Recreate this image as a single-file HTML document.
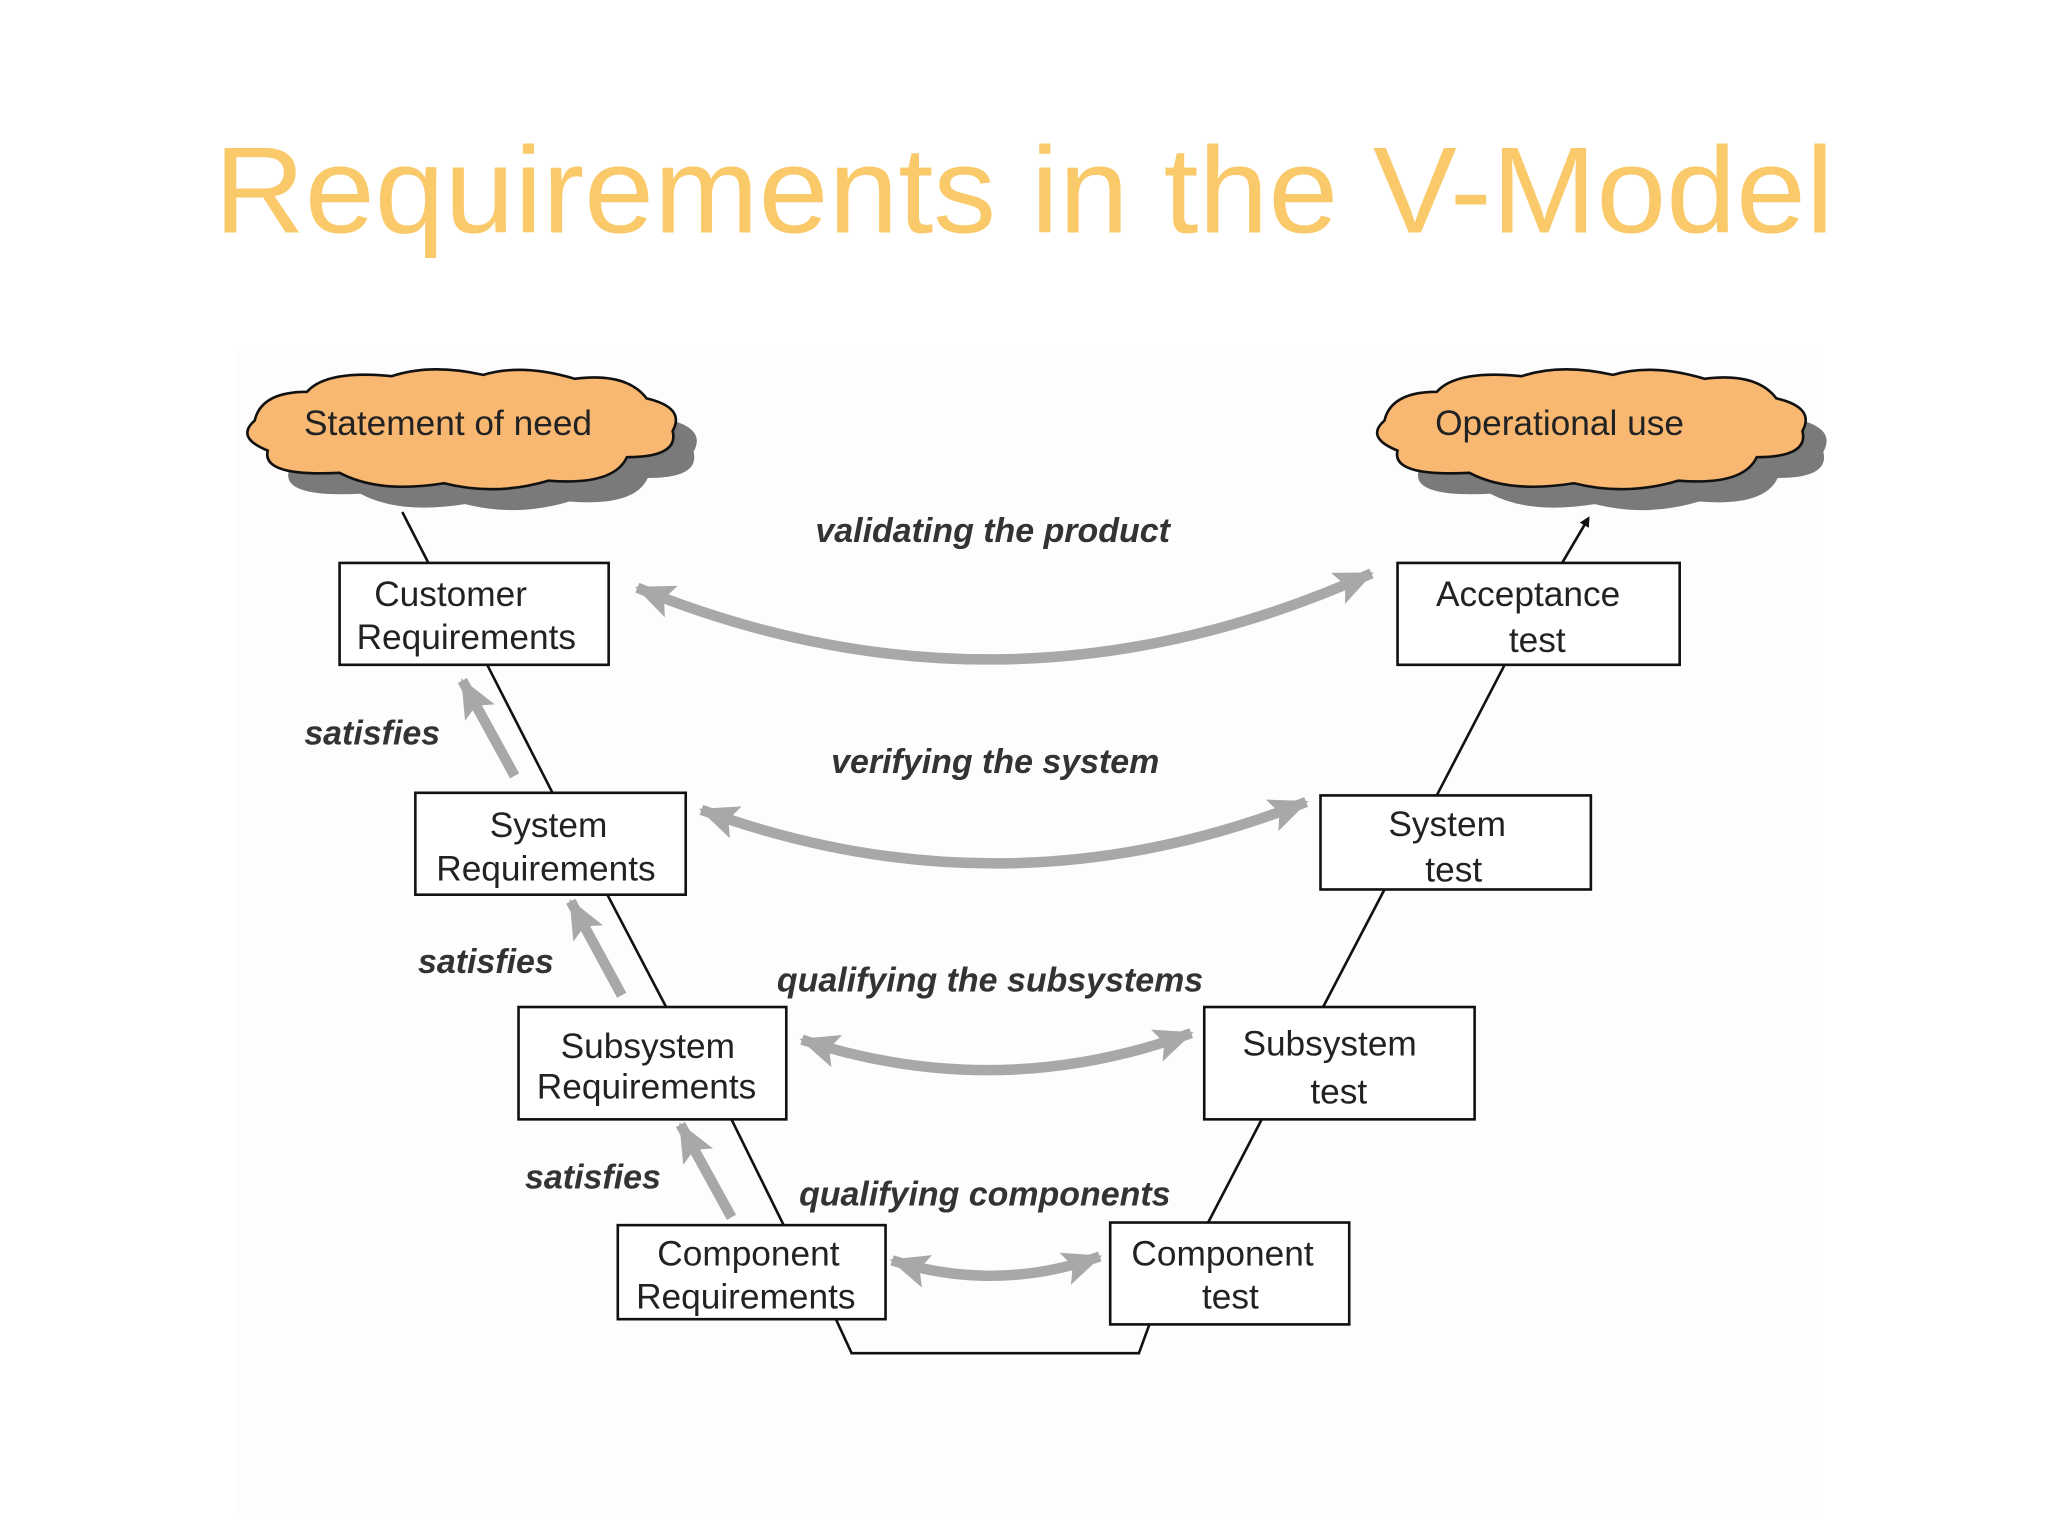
<!DOCTYPE html>
<html><head><meta charset="utf-8"><style>
html,body{margin:0;padding:0;background:#fff}
svg{display:block}
.b{fill:#fff;stroke:#111;stroke-width:2}
.t{font-family:"Liberation Sans",sans-serif;font-size:27px;fill:#222;text-anchor:middle}
.l{font-family:"Liberation Sans",sans-serif;font-size:26px;font-style:italic;font-weight:bold;fill:#333;text-anchor:middle}
.k{stroke:#111;stroke-width:2;fill:none}
.g{stroke:#a8a8a8;stroke-width:8;fill:none}
</style></head><body>
<svg width="2048" height="1536" viewBox="0 0 1568 1176" xmlns="http://www.w3.org/2000/svg">
<defs>
<marker id="ah" markerWidth="30" markerHeight="26" refX="28" refY="13" orient="auto-start-reverse" markerUnits="userSpaceOnUse"><path d="M0,0 L30,13 L0,26 L6,13 Z" fill="#a8a8a8"/></marker>
<marker id="bk" markerWidth="8" markerHeight="8" refX="6" refY="4" orient="auto" markerUnits="userSpaceOnUse"><path d="M0,0 L8,4 L0,8 Z" fill="#111"/></marker>
<path id="cl" d="M195,322 Q200,300 235,300 Q250,283 300,288 Q330,278 370,287 Q400,278 440,290 Q480,285 495,305 Q525,312 515,330 Q520,350 480,350 Q470,372 420,368 Q380,380 340,370 Q290,378 260,362 Q200,365 205,345 Q180,335 195,322 Z"/>
</defs>
<rect x="180" y="268" width="1212" height="890" fill="#fdfdfd"/>
<text x="784" y="178" font-family="Liberation Sans, sans-serif" font-size="94" fill="#F9C96A" text-anchor="middle" textLength="1240" lengthAdjust="spacingAndGlyphs">Requirements in the V-Model</text>
<use href="#cl" transform="translate(16,16)" fill="#7a7a7a"/>
<use href="#cl" fill="#F8B872" stroke="#111" stroke-width="2"/>
<text class="t" x="343" y="333">Statement of need</text>
<g transform="translate(865,0)">
<use href="#cl" transform="translate(16,16)" fill="#7a7a7a"/>
<use href="#cl" fill="#F8B872" stroke="#111" stroke-width="2"/>
</g>
<text class="t" x="1194" y="333">Operational use</text>
<path class="k" d="M308,392 L328,431 M373,509 L423,607 M465,685 L510,771 M560,857 L600,938 M640,1010 L652,1036 L872,1036 L880,1014 M925,936 L966,857 M1013,771 L1060,681 M1100,609 L1152,509"/>
<path class="k" d="M1196,431 L1216,397" marker-end="url(#bk)"/>
<rect class="b" x="260" y="431" width="206" height="78"/>
<text class="t" x="345" y="464">Customer</text><text class="t" x="357" y="497">Requirements</text>
<rect class="b" x="318" y="607" width="207" height="78"/>
<text class="t" x="420" y="641">System</text><text class="t" x="418" y="674">Requirements</text>
<rect class="b" x="397" y="771" width="205" height="86"/>
<text class="t" x="496" y="810">Subsystem</text><text class="t" x="495" y="841">Requirements</text>
<rect class="b" x="473" y="938" width="205" height="72"/>
<text class="t" x="573" y="969">Component</text><text class="t" x="571" y="1002">Requirements</text>
<rect class="b" x="1070" y="431" width="216" height="78"/>
<text class="t" x="1170" y="464">Acceptance</text><text class="t" x="1177" y="499">test</text>
<rect class="b" x="1011" y="609" width="207" height="72"/>
<text class="t" x="1108" y="640">System</text><text class="t" x="1113" y="675">test</text>
<rect class="b" x="922" y="771" width="207" height="86"/>
<text class="t" x="1018" y="808">Subsystem</text><text class="t" x="1025" y="845">test</text>
<rect class="b" x="850" y="936" width="183" height="78"/>
<text class="t" x="936" y="969">Component</text><text class="t" x="942" y="1002">test</text>
<path class="g" d="M488,450 Q770,565 1050,439" marker-start="url(#ah)" marker-end="url(#ah)"/>
<path class="g" d="M537,620 Q770,705 1000,614" marker-start="url(#ah)" marker-end="url(#ah)"/>
<path class="g" d="M614,796 Q763,845 912,791" marker-start="url(#ah)" marker-end="url(#ah)"/>
<path class="g" d="M683,965 Q763,990 842,962" marker-start="url(#ah)" marker-end="url(#ah)"/>
<path class="g" d="M394,594 L354,521" marker-end="url(#ah)"/>
<path class="g" d="M476,762 L437,690" marker-end="url(#ah)"/>
<path class="g" d="M560,932 L521,861" marker-end="url(#ah)"/>
<text class="l" x="760" y="415">validating the product</text>
<text class="l" x="762" y="592">verifying the system</text>
<text class="l" x="758" y="759">qualifying the subsystems</text>
<text class="l" x="754" y="923">qualifying components</text>
<text class="l" x="285" y="570">satisfies</text>
<text class="l" x="372" y="745">satisfies</text>
<text class="l" x="454" y="910">satisfies</text>
</svg>
</body></html>
